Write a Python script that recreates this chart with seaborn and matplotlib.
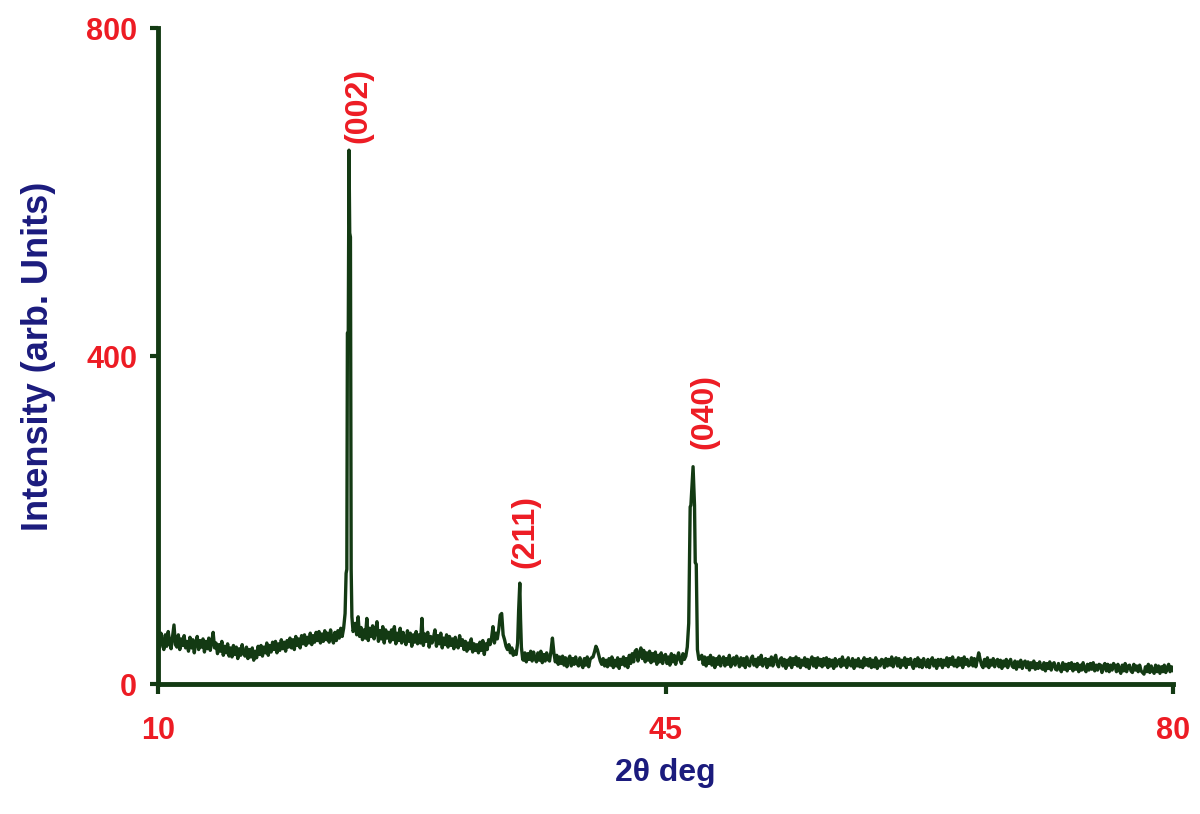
import numpy as np
import pandas as pd
import seaborn as sns
import matplotlib.pyplot as plt

# XRD pattern, 2theta from 10 to 80 deg, baseline read every 0.1 deg
two_theta_base = np.round(np.arange(10, 80.001, 0.1), 1)

intensity_10_30 = [
    54, 44, 62, 50, 42, 60, 46, 64, 52, 43,   # 10
    58, 72, 48, 45, 60, 42, 55, 47, 59, 44,   # 11
    52, 40, 57, 44, 54, 38, 51, 58, 42, 53,   # 12
    45, 55, 39, 52, 43, 56, 41, 51, 63, 44,   # 13
    50, 37, 48, 40, 52, 35, 46, 38, 49, 34,   # 14
    44, 33, 47, 36, 45, 31, 43, 35, 48, 37,   # 15
    34, 45, 31, 42, 33, 44, 29, 40, 32, 46,   # 16
    36, 47, 34, 45, 38, 50, 35, 47, 39, 51,   # 17
    42, 52, 38, 49, 41, 54, 43, 51, 40, 53,   # 18
    45, 56, 44, 54, 42, 58, 47, 55, 44, 59,   # 19
    49, 60, 47, 57, 50, 62, 48, 59, 51, 63,   # 20
    53, 64, 50, 61, 52, 65, 54, 62, 51, 66,   # 21
    55, 50, 63, 53, 65, 56, 68, 58, 70, 64,   # 22
    135, 400, 600, 140, 64, 66, 74, 60, 82, 58,   # 23
    69, 54, 66, 56, 80, 53, 68, 58, 71, 55,   # 24
    64, 76, 52, 65, 55, 70, 50, 66, 56, 63,   # 25
    51, 66, 54, 70, 49, 62, 53, 68, 50, 63,   # 26
    55, 48, 65, 52, 62, 46, 60, 51, 64, 49,   # 27
    60, 50, 80, 47, 61, 52, 63, 45, 58, 50,   # 28
    57, 66, 46, 59, 49, 62, 44, 56, 48, 60,   # 29
]
intensity_30_50 = [
    45, 58, 47, 55, 43, 57, 48, 44, 59, 47,   # 30
    54, 42, 52, 40, 50, 43, 55, 39, 49, 41,   # 31
    48, 38, 51, 41, 53, 36, 49, 42, 54, 48,   # 32
    56, 70, 50, 62, 55, 67, 84, 86, 60, 54,   # 33
    46, 42, 48, 38, 44, 35, 40, 60, 100, 90,  # 34
    80, 40, 29, 38, 27, 37, 30, 40, 28, 39,   # 35
    31, 27, 38, 29, 40, 26, 36, 28, 38, 30,   # 36
    28, 40, 56, 38, 27, 35, 24, 33, 25, 34,   # 37
    23, 32, 21, 30, 34, 22, 31, 24, 33, 25,   # 38
    22, 32, 24, 20, 31, 23, 33, 21, 30, 32,   # 39
    33, 39, 46, 42, 35, 28, 24, 31, 22, 29,   # 40
    21, 31, 23, 33, 20, 29, 22, 32, 19, 30,   # 41
    24, 33, 22, 31, 20, 35, 25, 37, 27, 40,   # 42
    42, 28, 37, 44, 31, 41, 27, 38, 29, 40,   # 43
    26, 37, 28, 39, 24, 35, 27, 38, 25, 34,   # 44
    36, 25, 33, 23, 37, 27, 35, 24, 32, 38,   # 45
    29, 25, 37, 30, 34, 45, 74, 216, 220, 265,    # 46
    218, 148, 42, 28, 31, 35, 24, 33, 22, 32,     # 47
    25, 35, 23, 32, 20, 31, 24, 34, 22, 30,   # 48
    33, 22, 31, 24, 35, 21, 30, 32, 23, 34,   # 49
]
intensity_50_80 = [
    29, 21, 32, 23, 31, 20, 33, 24, 22, 31,   # 50
    34, 23, 30, 21, 32, 24, 35, 22, 29, 31,   # 51
    20, 30, 23, 33, 22, 31, 35, 24, 21, 30,   # 52
    32, 22, 30, 19, 29, 23, 32, 20, 31, 24,   # 53
    33, 22, 31, 20, 29, 23, 32, 21, 30, 19,   # 54
    29, 33, 22, 31, 20, 32, 23, 30, 21, 31,   # 55
    23, 32, 20, 30, 22, 29, 19, 31, 22, 28,   # 56
    30, 21, 33, 23, 29, 20, 32, 24, 22, 31,   # 57
    19, 29, 22, 31, 21, 28, 20, 32, 23, 30,   # 58
    22, 31, 20, 29, 21, 32, 19, 28, 22, 30,   # 59
    29, 20, 31, 22, 30, 23, 33, 21, 29, 32,   # 60
    22, 31, 20, 29, 23, 32, 20, 30, 24, 31,   # 61
    23, 19, 30, 22, 32, 21, 29, 20, 31, 24,   # 62
    21, 30, 20, 28, 32, 22, 29, 19, 30, 23,   # 63
    30, 20, 29, 23, 32, 21, 31, 24, 33, 22,   # 64
    29, 21, 32, 23, 31, 20, 33, 24, 30, 22,   # 65
    24, 32, 22, 31, 21, 29, 38, 30, 23, 20,   # 66
    30, 22, 32, 20, 29, 23, 31, 21, 28, 30,   # 67
    21, 29, 19, 28, 22, 30, 20, 27, 30, 22,   # 68
    20, 28, 18, 27, 21, 29, 19, 26, 28, 20,   # 69
    27, 17, 26, 20, 28, 18, 25, 19, 27, 20,   # 70
    18, 26, 16, 25, 19, 27, 17, 24, 26, 18,   # 71
    17, 25, 19, 15, 26, 18, 24, 16, 25, 19,   # 72
    26, 16, 24, 18, 25, 15, 23, 17, 26, 18,   # 73
    15, 24, 17, 25, 18, 26, 16, 23, 17, 24,   # 74
    23, 14, 22, 25, 16, 24, 15, 23, 17, 25,   # 75
    22, 15, 24, 17, 13, 23, 16, 25, 15, 22,   # 76
    23, 16, 14, 24, 17, 22, 15, 23, 16, 14,   # 77
    12, 21, 15, 24, 14, 22, 16, 13, 23, 15,   # 78
    22, 13, 21, 15, 23, 14, 20, 24, 15, 21,   # 79
    16,                                       # 80
]

# sharp reflections, read at finer steps
peak_002_theta = [22.8, 22.9, 22.97, 23.02, 23.06, 23.12, 23.17, 23.22, 23.27, 23.32, 23.37, 23.45]
peak_002_int = [68, 86, 135, 140, 428, 430, 651, 550, 545, 140, 82, 64]

peak_211_theta = [34.7, 34.8, 34.87, 34.95, 35.0, 35.06, 35.15]
peak_211_int = [36, 50, 90, 123, 80, 45, 30]

peak_040_theta = [46.4, 46.5, 46.6, 46.7, 46.75, 46.9, 47.0, 47.05, 47.12, 47.2, 47.3]
peak_040_int = [34, 45, 74, 216, 218, 265, 218, 148, 146, 42, 30]

peak_labels = ['(002)', '(211)', '(040)']
label_theta = [23.8, 35.3, 47.66]
label_int = [660, 141, 287]

line_color = '#133a13'
red = '#ed1c24'
navy = '#1b1b7d'

# merge baseline and peaks
base = pd.DataFrame({'theta': two_theta_base,
                     'intensity': intensity_10_30 + intensity_30_50 + intensity_50_80})
peaks = [(peak_002_theta, peak_002_int), (peak_211_theta, peak_211_int),
         (peak_040_theta, peak_040_int)]
keep = np.ones(len(base), dtype=bool)
for th, _ in peaks:
    keep &= ~((base['theta'] >= min(th)) & (base['theta'] <= max(th)))
frames = [base[keep]] + [pd.DataFrame({'theta': th, 'intensity': it}) for th, it in peaks]
xrd = pd.concat(frames).sort_values('theta').reset_index(drop=True)

sns.set_theme(style='white')
plt.rcParams['font.family'] = ['Liberation Sans', 'DejaVu Sans']
plt.rcParams['font.weight'] = 'bold'

fig = plt.figure(figsize=(12, 8.14), dpi=100)
ax = fig.add_axes([0.1317, 0.1597, 0.8458, 0.8059])

sns.lineplot(data=xrd, x='theta', y='intensity', estimator=None, sort=False,
             color=line_color, linewidth=2.4, ax=ax)

for lab, tx, ty in zip(peak_labels, label_theta, label_int):
    ax.text(tx, ty, lab, rotation=90, ha='center', va='bottom',
            color=red, fontsize=23, fontweight='bold')

ax.set_xlim(10, 80)
ax.set_ylim(0, 800)
ax.set_xticks([10, 45, 80])
ax.set_yticks([0, 400, 800])

for side in ['top', 'right']:
    ax.spines[side].set_visible(False)
for side in ['left', 'bottom']:
    ax.spines[side].set_color(line_color)
    ax.spines[side].set_linewidth(3.5)

ax.tick_params(axis='x', direction='out', length=7, width=3, color=line_color,
               labelcolor=red, labelsize=22, pad=16, bottom=True)
ax.tick_params(axis='y', direction='out', length=6, width=3, color=line_color,
               labelcolor=red, labelsize=22, pad=9, left=True)
for lbl in ax.get_xticklabels() + ax.get_yticklabels():
    lbl.set_fontweight('bold')

ax.set_xlabel('2θ deg', color=navy, fontsize=23, fontweight='bold', labelpad=9)
ax.set_ylabel('Intensity (arb. Units)', color=navy, fontsize=26, fontweight='bold', labelpad=22)
ax.grid(False)

fig.savefig('out.png', dpi=100, facecolor='white')
